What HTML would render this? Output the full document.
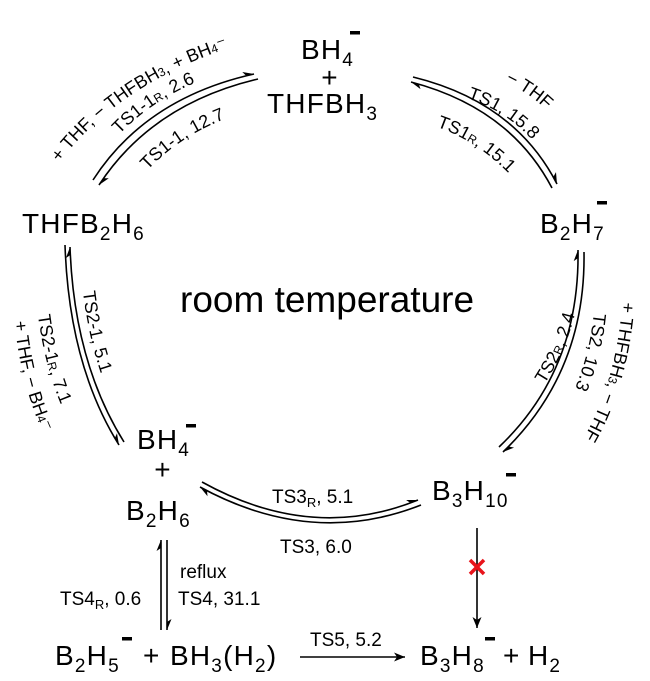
<!DOCTYPE html>
<html><head><meta charset="utf-8"><style>
html,body{margin:0;padding:0;background:#fff}
svg{display:block}
text{font-family:"Liberation Sans",sans-serif;fill:#000}
.m{font-size:28px;letter-spacing:1.2px}
.s{font-size:19px}
</style></head><body>
<svg width="650" height="681" viewBox="0 0 650 681" xmlns="http://www.w3.org/2000/svg">
<defs>
<marker id="h" markerWidth="14" markerHeight="10" refX="0" refY="0" viewBox="-12 -6 14 10" orient="auto" markerUnits="userSpaceOnUse">
<polygon points="0,0 -11,-4.5 -8,0" fill="#000"/>
</marker>
<marker id="a" markerWidth="14" markerHeight="12" refX="0" refY="0" viewBox="-12 -6 14 12" orient="auto" markerUnits="userSpaceOnUse">
<polygon points="0,0 -11,-4.5 -8,0 -11,4.5" fill="#000"/>
</marker>
<path id="p1" d="M100,158 Q142,98 224,72"/>
<path id="p2" d="M40,192 Q104,80 262,38"/>
<path id="p3" d="M130,192 Q172,132 252,110"/>
<path id="p4" d="M452,94 Q510,108 542,152"/>
<path id="p5" d="M492,76 Q530,90 556,120"/>
<path id="p6" d="M420,122 Q478,136 520,186"/>
<path id="p7" d="M81,274 Q87,340 107,390"/>
<path id="p8" d="M36,298 Q43,370 68,420"/>
<path id="p9" d="M12,288 Q16,392 58,462"/>
<path id="p10" d="M535,398 Q570,350 578,298"/>
<path id="p11" d="M595,296 Q593,352 568,404"/>
<path id="p12" d="M624,270 Q622,392 566,464"/>
</defs>
<g fill="none" stroke="#000" stroke-width="1.6">
<path d="M93,180 Q146,98 254,74" marker-end="url(#h)"/>
<path d="M258,79 Q152,104 99,185" marker-end="url(#h)"/>
<path d="M552,188 Q510,108 411,82" marker-end="url(#h)"/>
<path d="M413,77 Q515,102 557,184" marker-end="url(#h)"/>
<path d="M65,245 Q69,365 119,445" marker-end="url(#h)"/>
<path d="M124,442 Q74,362 70,247" marker-end="url(#h)"/>
<path d="M499,447 Q580,370 578,250" marker-end="url(#h)"/>
<path d="M584,252 Q586,372 503,452" marker-end="url(#h)"/>
<path d="M421,505 Q312,548 200,487" marker-end="url(#h)"/>
<path d="M202,482 Q312,543 418,500" marker-end="url(#h)"/>
<path d="M161,630 L161,540" marker-end="url(#h)"/>
<path d="M167,540 L167,630" marker-end="url(#h)"/>
<path d="M477,528 L477,628" marker-end="url(#a)"/>
<path d="M300,657 L405,657" marker-end="url(#a)"/>
</g>
<g stroke="#e8141b" stroke-width="3.5">
<line x1="470" y1="560" x2="484" y2="574"/><line x1="484" y1="560" x2="470" y2="574"/>
</g>
<g class="m">
<text x="301" y="59">BH<tspan font-size="19" dy="7">4</tspan></text>
<text x="330" y="87" text-anchor="middle">+</text>
<text x="267" y="113">THFBH<tspan font-size="19" dy="7">3</tspan></text>
<text x="22" y="233">THFB<tspan font-size="19" dy="7">2</tspan><tspan dy="-7">H</tspan><tspan font-size="19" dy="7">6</tspan></text>
<text x="540" y="233">B<tspan font-size="19" dy="7">2</tspan><tspan dy="-7">H</tspan><tspan font-size="19" dy="7">7</tspan></text>
<text x="137" y="449">BH<tspan font-size="19" dy="7">4</tspan></text>
<text x="163" y="479" text-anchor="middle">+</text>
<text x="126" y="520">B<tspan font-size="19" dy="7">2</tspan><tspan dy="-7">H</tspan><tspan font-size="19" dy="7">6</tspan></text>
<text x="432" y="500">B<tspan font-size="19" dy="7">3</tspan><tspan dy="-7">H</tspan><tspan font-size="19" dy="7">10</tspan></text>
<text x="55" y="665">B<tspan font-size="19" dy="7">2</tspan><tspan dy="-7">H</tspan><tspan font-size="19" dy="7">5</tspan></text>
<text x="143" y="665">+</text>
<text x="170" y="665">BH<tspan font-size="19" dy="7">3</tspan><tspan dy="-7">(H</tspan><tspan font-size="19" dy="7">2</tspan><tspan dy="-7">)</tspan></text>
<text x="420" y="665">B<tspan font-size="19" dy="7">3</tspan><tspan dy="-7">H</tspan><tspan font-size="19" dy="7">8</tspan></text>
<text x="503" y="665">+</text>
<text x="528" y="665">H<tspan font-size="19" dy="7">2</tspan></text>
</g>
<text x="180" y="312" font-size="37">room temperature</text>
<g fill="#000">
<rect x="350" y="31" width="10" height="3.5"/>
<rect x="597" y="201" width="10" height="3.5"/>
<rect x="186" y="424" width="10" height="3.5"/>
<rect x="506" y="473" width="10" height="3.5"/>
<rect x="122" y="637" width="10" height="3.5"/>
<rect x="485" y="637" width="10" height="3.5"/>
</g>
<g class="s">
<text x="272" y="503">TS3<tspan font-size="13" dy="4">R</tspan><tspan dy="-4">, 5.1</tspan></text>
<text x="280" y="553">TS3, 6.0</text>
<text x="180" y="578">reflux</text>
<text x="60" y="605">TS4<tspan font-size="13" dy="4">R</tspan><tspan dy="-4">, 0.6</tspan></text>
<text x="178" y="605">TS4, 31.1</text>
<text x="310" y="646">TS5, 5.2</text>
</g>
<g font-size="18">
<text><textPath href="#p1" startOffset="50%" text-anchor="middle">TS1-1<tspan font-size="12">R</tspan>, 2.6</textPath></text>
<text><textPath href="#p2" startOffset="50%" text-anchor="middle">+ THF, − THFBH<tspan font-size="12">3</tspan>, + BH<tspan font-size="12">4</tspan>⁻</textPath></text>
<text><textPath href="#p3" startOffset="50%" text-anchor="middle">TS1-1, 12.7</textPath></text>
<text><textPath href="#p4" startOffset="50%" text-anchor="middle">TS1, 15.8</textPath></text>
<text><textPath href="#p5" startOffset="50%" text-anchor="middle">− THF</textPath></text>
<text><textPath href="#p6" startOffset="50%" text-anchor="middle">TS1<tspan font-size="12">R</tspan>, 15.1</textPath></text>
<text><textPath href="#p7" startOffset="50%" text-anchor="middle">TS2-1, 5.1</textPath></text>
<text><textPath href="#p8" startOffset="50%" text-anchor="middle">TS2-1<tspan font-size="12">R</tspan>, 7.1</textPath></text>
<text><textPath href="#p9" startOffset="50%" text-anchor="middle">+ THF,   − BH<tspan font-size="12">4</tspan>⁻</textPath></text>
<text><textPath href="#p10" startOffset="50%" text-anchor="middle">TS2<tspan font-size="12">R</tspan>, 2.4</textPath></text>
<text><textPath href="#p11" startOffset="50%" text-anchor="middle">TS2, 10.3</textPath></text>
<text><textPath href="#p12" startOffset="50%" text-anchor="middle">+ THFBH<tspan font-size="12">3</tspan>,   − THF</textPath></text>
</g>
</svg>
</body></html>
